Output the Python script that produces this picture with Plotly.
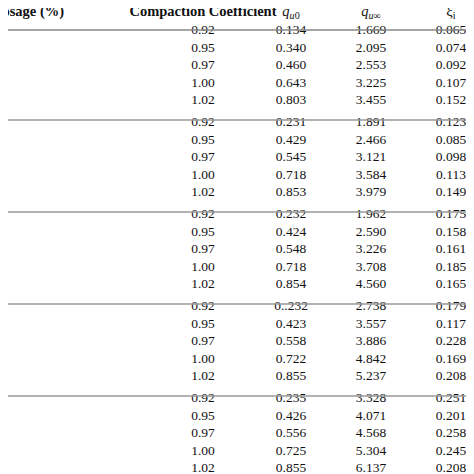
import plotly.graph_objects as go

compaction = ["0.92", "0.95", "0.97", "1.00", "1.02"]
dosage = ["1", "2", "3", "4", "5"]
qu0 = [
    ["0.134", "0.340", "0.460", "0.643", "0.803"],
    ["0.231", "0.429", "0.545", "0.718", "0.853"],
    ["0.232", "0.424", "0.548", "0.718", "0.854"],
    ["0..232", "0.423", "0.558", "0.722", "0.855"],
    ["0.235", "0.426", "0.556", "0.725", "0.855"],
]
qu_inf = [
    ["1.669", "2.095", "2.553", "3.225", "3.455"],
    ["1.891", "2.466", "3.121", "3.584", "3.979"],
    ["1.962", "2.590", "3.226", "3.708", "4.560"],
    ["2.738", "3.557", "3.886", "4.842", "5.237"],
    ["3.328", "4.071", "4.568", "5.304", "6.137"],
]
xi = [
    ["0.065", "0.074", "0.092", "0.107", "0.152"],
    ["0.123", "0.085", "0.098", "0.113", "0.149"],
    ["0.175", "0.158", "0.161", "0.185", "0.165"],
    ["0.179", "0.117", "0.228", "0.169", "0.208"],
    ["0.251", "0.201", "0.258", "0.245", "0.208"],
]
headers = ["<b>Dosage (%)</b>", "<b>Compaction Coefficient</b>",
           "<i>q</i><sub><i>u</i>0</sub>", "<i>q</i><sub><i>u</i>∞</sub>", "ξ<sub>i</sub>"]

col_x = [20, 195, 283, 363, 443]
top, row_h, group_h = 23, 17.5, 92
font = dict(family="Liberation Serif", size=13.5, color="#111")

xs, ys, texts = [], [], []
for g in range(5):
    for r in range(5):
        y = top + g * group_h + r * row_h
        for c, val in enumerate([compaction[r], qu0[g][r], qu_inf[g][r], xi[g][r]]):
            xs.append(col_x[c + 1])
            ys.append(y)
            texts.append(val)

fig = go.Figure()
fig.add_trace(go.Scatter(x=xs, y=ys, text=texts, mode="text",
                         textfont=font, hoverinfo="skip", cliponaxis=False))
# dosage labels, mostly cut off at the left edge
fig.add_trace(go.Scatter(x=[-3] * 5, y=[top + g * group_h + 2 * row_h for g in range(5)],
                         text=dosage, mode="text", textfont=font, hoverinfo="skip"))
fig.add_trace(go.Scatter(x=col_x, y=[4] * 5, text=headers, mode="text",
                         textfont=dict(family="Liberation Serif", size=14.5, color="#111"),
                         hoverinfo="skip", cliponaxis=False))

fig.add_shape(type="line", x0=0, x1=474, y0=22, y1=22, line=dict(color="#888", width=1.5))
for g in range(4):
    y = 30 + g * group_h + 4 * row_h + 12
    fig.add_shape(type="line", x0=0, x1=474, y0=y, y1=y, line=dict(color="#999", width=1.5))

fig.update_xaxes(range=[0, 474], visible=False)
fig.update_yaxes(range=[474, 0], visible=False)
fig.update_layout(width=474, height=474, margin=dict(l=0, r=0, t=0, b=0),
                  showlegend=False, plot_bgcolor="white", paper_bgcolor="white")
fig.write_html("out.html")
